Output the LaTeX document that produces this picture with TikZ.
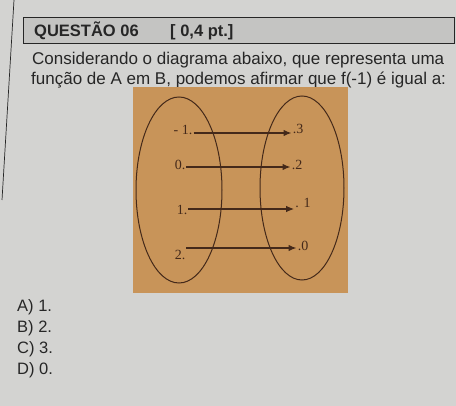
\documentclass[tikz,border=0pt]{standalone}
\usepackage{fontspec}
\setmainfont{Liberation Sans}
\newfontfamily\diagfont{Liberation Serif}
\usetikzlibrary{arrows.meta}
\definecolor{paper}{HTML}{D3D3D1}
\definecolor{headbg}{HTML}{C4C4C2}
\definecolor{ink}{HTML}{262626}
\definecolor{tan}{HTML}{C89459}
\definecolor{brown}{HTML}{44291A}
\tikzset{
  txt/.style={anchor=base west, inner sep=0pt, text=ink, font=\fontsize{17}{20}\selectfont},
  head/.style={anchor=base west, inner sep=0pt, text=ink, font=\bfseries\fontsize{16.5}{20}\selectfont},
  opt/.style={anchor=base west, inner sep=0pt, text=ink, font=\fontsize{16.5}{20}\selectfont},
  elem/.style={inner sep=1pt, text=brown, font=\diagfont\fontsize{14}{16}\selectfont},
  map/.style={draw=brown, line width=1.4pt, -{Latex[length=8pt,width=6.5pt]}},
  setline/.style={draw=brown, line width=1pt}
}
\begin{document}
\begin{tikzpicture}[x=1pt, y=-1pt]
    \useasboundingbox[fill=paper] (0,0) rectangle (456,406);

    % Page edge and header
    \draw[ink, line width=0.7pt] (14,0) -- (2,200);
    \draw[ink, line width=0.9pt, fill=headbg] (23,17) rectangle (454,43);
    \node[head] (qnum) at (34,37) {QUESTÃO 06};
    \node[head] (pts) at (170,37) {[ 0,4 pt.]};

    % Statement
    \node[txt] (line1) at (32,65) {Considerando o diagrama abaixo, que representa uma};
    \node[txt] (line2) at (31,85) {função de A em B, podemos afirmar que f(-1) é igual a:};

    % Diagram
    \fill[tan] (133,87) rectangle (348,293);
    \draw[setline] (179,190) ellipse [x radius=43, y radius=93];
    \draw[setline] (302,188) ellipse [x radius=42, y radius=92];

    \node[elem] (a1) at (183,130) {- 1.};
    \node[elem] (a2) at (180,165) {0.};
    \node[elem] (a3) at (182,210) {1.};
    \node[elem] (a4) at (180,255) {2.};
    \node[elem] (b1) at (298,129) {.3};
    \node[elem] (b2) at (297,165) {.2};
    \node[elem] (b3) at (303,203) {. 1};
    \node[elem] (b4) at (303,246) {.0};

    \draw[map] (a1.east |- 0,133) -- (b1.west |- 0,133);
    \draw[map] (a2.east |- 0,167) -- (b2.west |- 0,167);
    \draw[map] (a3.east |- 0,209) -- (b3.west |- 0,209);
    \draw[map] (a4.east |- 0,248) -- (b4.west |- 0,248);

    % Options
    \node[opt] (optA) at (17,312) {A) 1.};
    \node[opt] (optB) at (17,333) {B) 2.};
    \node[opt] (optC) at (17,354) {C) 3.};
    \node[opt] (optD) at (17,375) {D) 0.};
\end{tikzpicture}
\end{document}
